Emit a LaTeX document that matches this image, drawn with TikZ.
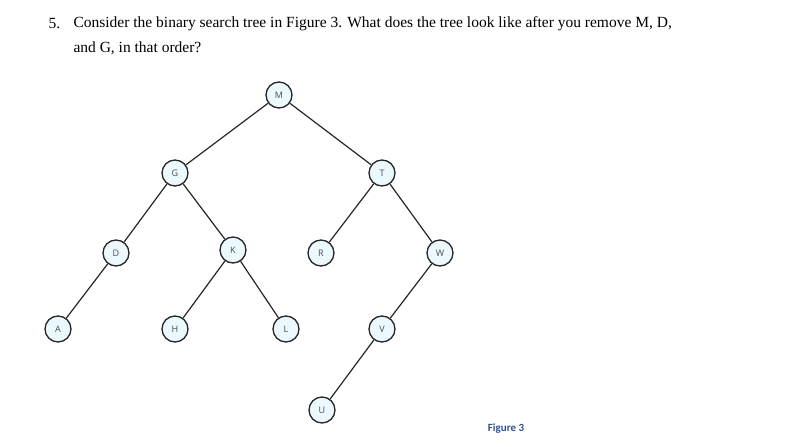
\documentclass[tikz,border=0pt]{standalone}
\usepackage{fontspec}
\setmainfont{Liberation Serif}
\newfontfamily\calib{Carlito}
\newfontfamily\nodefont{Open Sans}
\begin{document}
\begin{tikzpicture}[x=1pt,y=-1pt,
  tn/.style={circle,draw=black!85,line width=1.3pt,fill=cyan!8,minimum size=26pt,inner sep=0pt,font=\nodefont\fontsize{9}{10}\selectfont,text=black!70},
  edge/.style={line width=1.2pt,black!85}]
\useasboundingbox (0,0) rectangle (796,447);
\node[anchor=west,font=\fontsize{15.5}{18}\selectfont] (n5) at (45,24) {5.};
\node[anchor=west,font=\fontsize{15.5}{18}\selectfont] (q1) at (70,24) {Consider the binary search tree in Figure 3. What does the tree look like after you remove M, D,};
\node[anchor=west,font=\fontsize{15.5}{18}\selectfont] (q2) at (70,48) {and G, in that order?};
\node[tn] (M) at (279,95) {M};
\node[tn] (G) at (175,173) {G};
\node[tn] (T) at (382,173) {T};
\node[tn] (D) at (116,253) {D};
\node[tn] (K) at (233,250) {K};
\node[tn] (R) at (321,253) {R};
\node[tn] (W) at (440,253) {W};
\node[tn] (A) at (58,329) {A};
\node[tn] (H) at (175,329) {H};
\node[tn] (L) at (286,329) {L};
\node[tn] (V) at (382,329) {V};
\node[tn] (U) at (322,410) {U};
\draw[edge] (M)--(G); \draw[edge] (M)--(T);
\draw[edge] (G)--(D); \draw[edge] (G)--(K);
\draw[edge] (T)--(R); \draw[edge] (T)--(W);
\draw[edge] (D)--(A); \draw[edge] (K)--(H); \draw[edge] (K)--(L);
\draw[edge] (W)--(V); \draw[edge] (V)--(U);
\node[font=\calib\bfseries\fontsize{11}{13}\selectfont,text={rgb,255:red,50;green,80;blue,150}] (fig) at (506,429) {Figure 3};
\end{tikzpicture}
\end{document}
